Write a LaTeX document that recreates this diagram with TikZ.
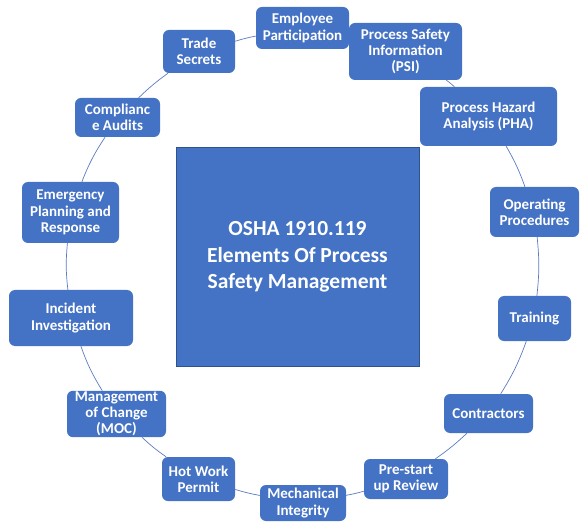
\documentclass[tikz,border=0pt]{standalone}
\usepackage{fontspec}
\setmainfont{Carlito}[BoldFont={Carlito Bold}]
\definecolor{boxblue}{HTML}{4472C4}
\definecolor{boxedge}{HTML}{2F528F}
\definecolor{linkblue}{HTML}{5B7BC0}
\begin{document}
\begin{tikzpicture}[x=1pt,y=-1pt,
  elem/.style={fill=boxblue, draw=none, rounded corners=6pt, text=white,
    font=\fontsize{15}{16.2}\selectfont\bfseries, align=center, inner sep=1pt},
  hub/.style={fill=boxblue, draw=boxedge, line width=1pt, text=white,
    font=\fontsize{21.5}{26.5}\selectfont\bfseries, align=center},
  link/.style={draw=linkblue, line width=0.7pt}]
\useasboundingbox (0,0) rectangle (583,526);
\node[hub, minimum width=243pt, minimum height=218pt] (hub) at (297.5,257) {OSHA 1910.119\\Elements Of Process\\Safety Management};
\node[elem, minimum width=93pt, minimum height=42pt] (n1) at (302.5,28) {Employee\\Participation};
\node[elem, minimum width=113pt, minimum height=57pt] (n2) at (405.5,51.5) {Process Safety\\Information\\(PSI)};
\node[elem, minimum width=137pt, minimum height=59pt] (n3) at (488.5,116.5) {Process Hazard\\Analysis (PHA)};
\node[elem, minimum width=89pt, minimum height=50pt] (n4) at (534.5,212) {Operating\\Procedures};
\node[elem, minimum width=73pt, minimum height=45pt] (n5) at (534.5,318.5) {Training};
\node[elem, minimum width=89pt, minimum height=39pt] (n6) at (488.5,413.5) {Contractors};
\node[elem, minimum width=84pt, minimum height=40pt] (n7) at (406,479) {Pre-start\\up Review};
\node[elem, minimum width=86pt, minimum height=36pt] (n8) at (303,503) {Mechanical\\Integrity};
\node[elem, minimum width=73pt, minimum height=44pt] (n9) at (198.5,479) {Hot Work\\Permit};
\node[elem, minimum width=99pt, minimum height=46pt] (n10) at (116.5,414) {Management\\of Change\\(MOC)};
\node[elem, minimum width=124pt, minimum height=56pt] (n11) at (71,318) {Incident\\Investigation};
\node[elem, minimum width=97pt, minimum height=61pt] (n12) at (70.5,212.5) {Emergency\\Planning and\\Response};
\node[elem, minimum width=85pt, minimum height=39pt] (n13) at (117.5,117.5) {Complianc\\e Audits};
\node[elem, minimum width=72pt, minimum height=43pt] (n14) at (199,51.5) {Trade\\Secrets};
\draw[link] (n2) to[bend left=3] (n3);
\draw[link] (n3) to[bend left=5] (n4);
\draw[link] (n4) to[bend left=6] (n5);
\draw[link] (n5) to[bend left=6] (n6);
\draw[link] (n6) to[bend left=4] (n7);
\draw[link] (n7) to[bend left=3] (n8);
\draw[link] (n8) to[bend left=3] (n9);
\draw[link] (n9) to[bend left=4] (n10);
\draw[link] (n10) to[bend left=6] (n11);
\draw[link] (n11) to[bend left=6] (n12);
\draw[link] (n12) to[bend left=6] (n13);
\draw[link] (n13) to[bend left=4] (n14);
\draw[link] (n14) to[bend left=3] (n1);
\end{tikzpicture}
\end{document}
